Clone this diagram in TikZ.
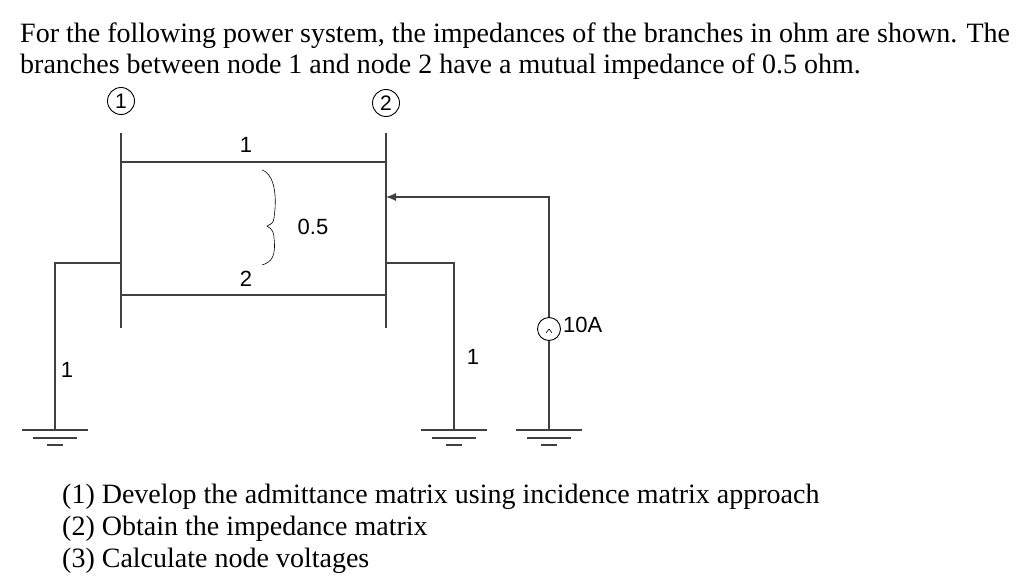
\documentclass[tikz,border=0pt]{standalone}
\usepackage{fontspec}
\setmainfont{Liberation Serif}
\newfontfamily\arialf{Liberation Sans}
\usetikzlibrary{arrows.meta}
\begin{document}
\begin{tikzpicture}[x=1pt,y=-1pt,
  wire/.style={line width=1.1pt,black!75},
  lbl/.style={font=\arialf\fontsize{22}{24}\selectfont,inner sep=0},
  txt/.style={font=\fontsize{28}{32}\selectfont,anchor=base west,inner sep=0},
  nodec/.style={circle,draw,line width=0.9pt,minimum size=27pt,inner sep=0,font=\arialf\fontsize{21}{22}\selectfont}]
\useasboundingbox (0,0) rectangle (1024,586);
\node[txt] (t1) at (20,42) {For the following power system, the impedances of the branches in ohm are shown. The};
\node[txt] (t2) at (20,74) {branches between node 1 and node 2 have a mutual impedance of 0.5 ohm.};
\node[txt] (q1) at (62,503) {(1) Develop the admittance matrix using incidence matrix approach};
\node[txt] (q2) at (62,535) {(2) Obtain the impedance matrix};
\node[txt] (q3) at (62,567) {(3) Calculate node voltages};
\node[nodec] (n1) at (121,101) {1};
\node[nodec] (n2) at (386,103) {2};
% buses
\coordinate (b1t) at (121,133); \coordinate (b1b) at (121,328);
\coordinate (b2t) at (386,133); \coordinate (b2b) at (386,328);
\draw[wire] (b1t) -- (b1b);
\draw[wire] (b2t) -- (b2b);
\draw[wire] (121,162) -- (386,162);
\draw[wire] (121,295) -- (386,295);
\node[lbl] (l1) at (246,145) {1};
\node[lbl] (l2) at (246,279) {2};
\draw[line width=0.6pt] (262,170) .. controls (272,173) and (278,190) .. (274,218) .. controls (273,223) .. (267,226)
  .. controls (273,229) and (274,234) .. (274,238) .. controls (276,256) and (272,262) .. (262,265);
\node[lbl] (l05) at (313,227) {0.5};
% shunts
\coordinate (g1) at (55,430); \coordinate (g2) at (454,430); \coordinate (g3) at (549,430);
\draw[wire] (121,263) -| (g1);
\draw[wire] (386,263) -| (g2);
\node[lbl] (ls1) at (67,370) {1};
\node[lbl] (ls2) at (473,357) {1};
% source
\node[circle,draw,line width=0.9pt,minimum size=23pt,inner sep=0] (src) at (549,329) {};
\draw[line width=0.6pt] (546,333) -- (549,329) -- (552,333);
\node[lbl,anchor=west] (l10) at (563,325) {10A};
\draw[wire] (src.south) -- (g3);
\draw[wire,-{Latex[length=10pt,width=8pt]}] (src.north) -- (549,197) -- (386,197);
% grounds
\foreach \g in {g1,g2,g3}{
  \draw[wire] ([xshift=-33pt]\g) -- ([xshift=33pt]\g);
  \draw[wire] ([xshift=-22pt,yshift=-8pt]\g) -- ([xshift=22pt,yshift=-8pt]\g);
  \draw[wire] ([xshift=-8pt,yshift=-15pt]\g) -- ([xshift=8pt,yshift=-15pt]\g);
}
\end{tikzpicture}
\end{document}
